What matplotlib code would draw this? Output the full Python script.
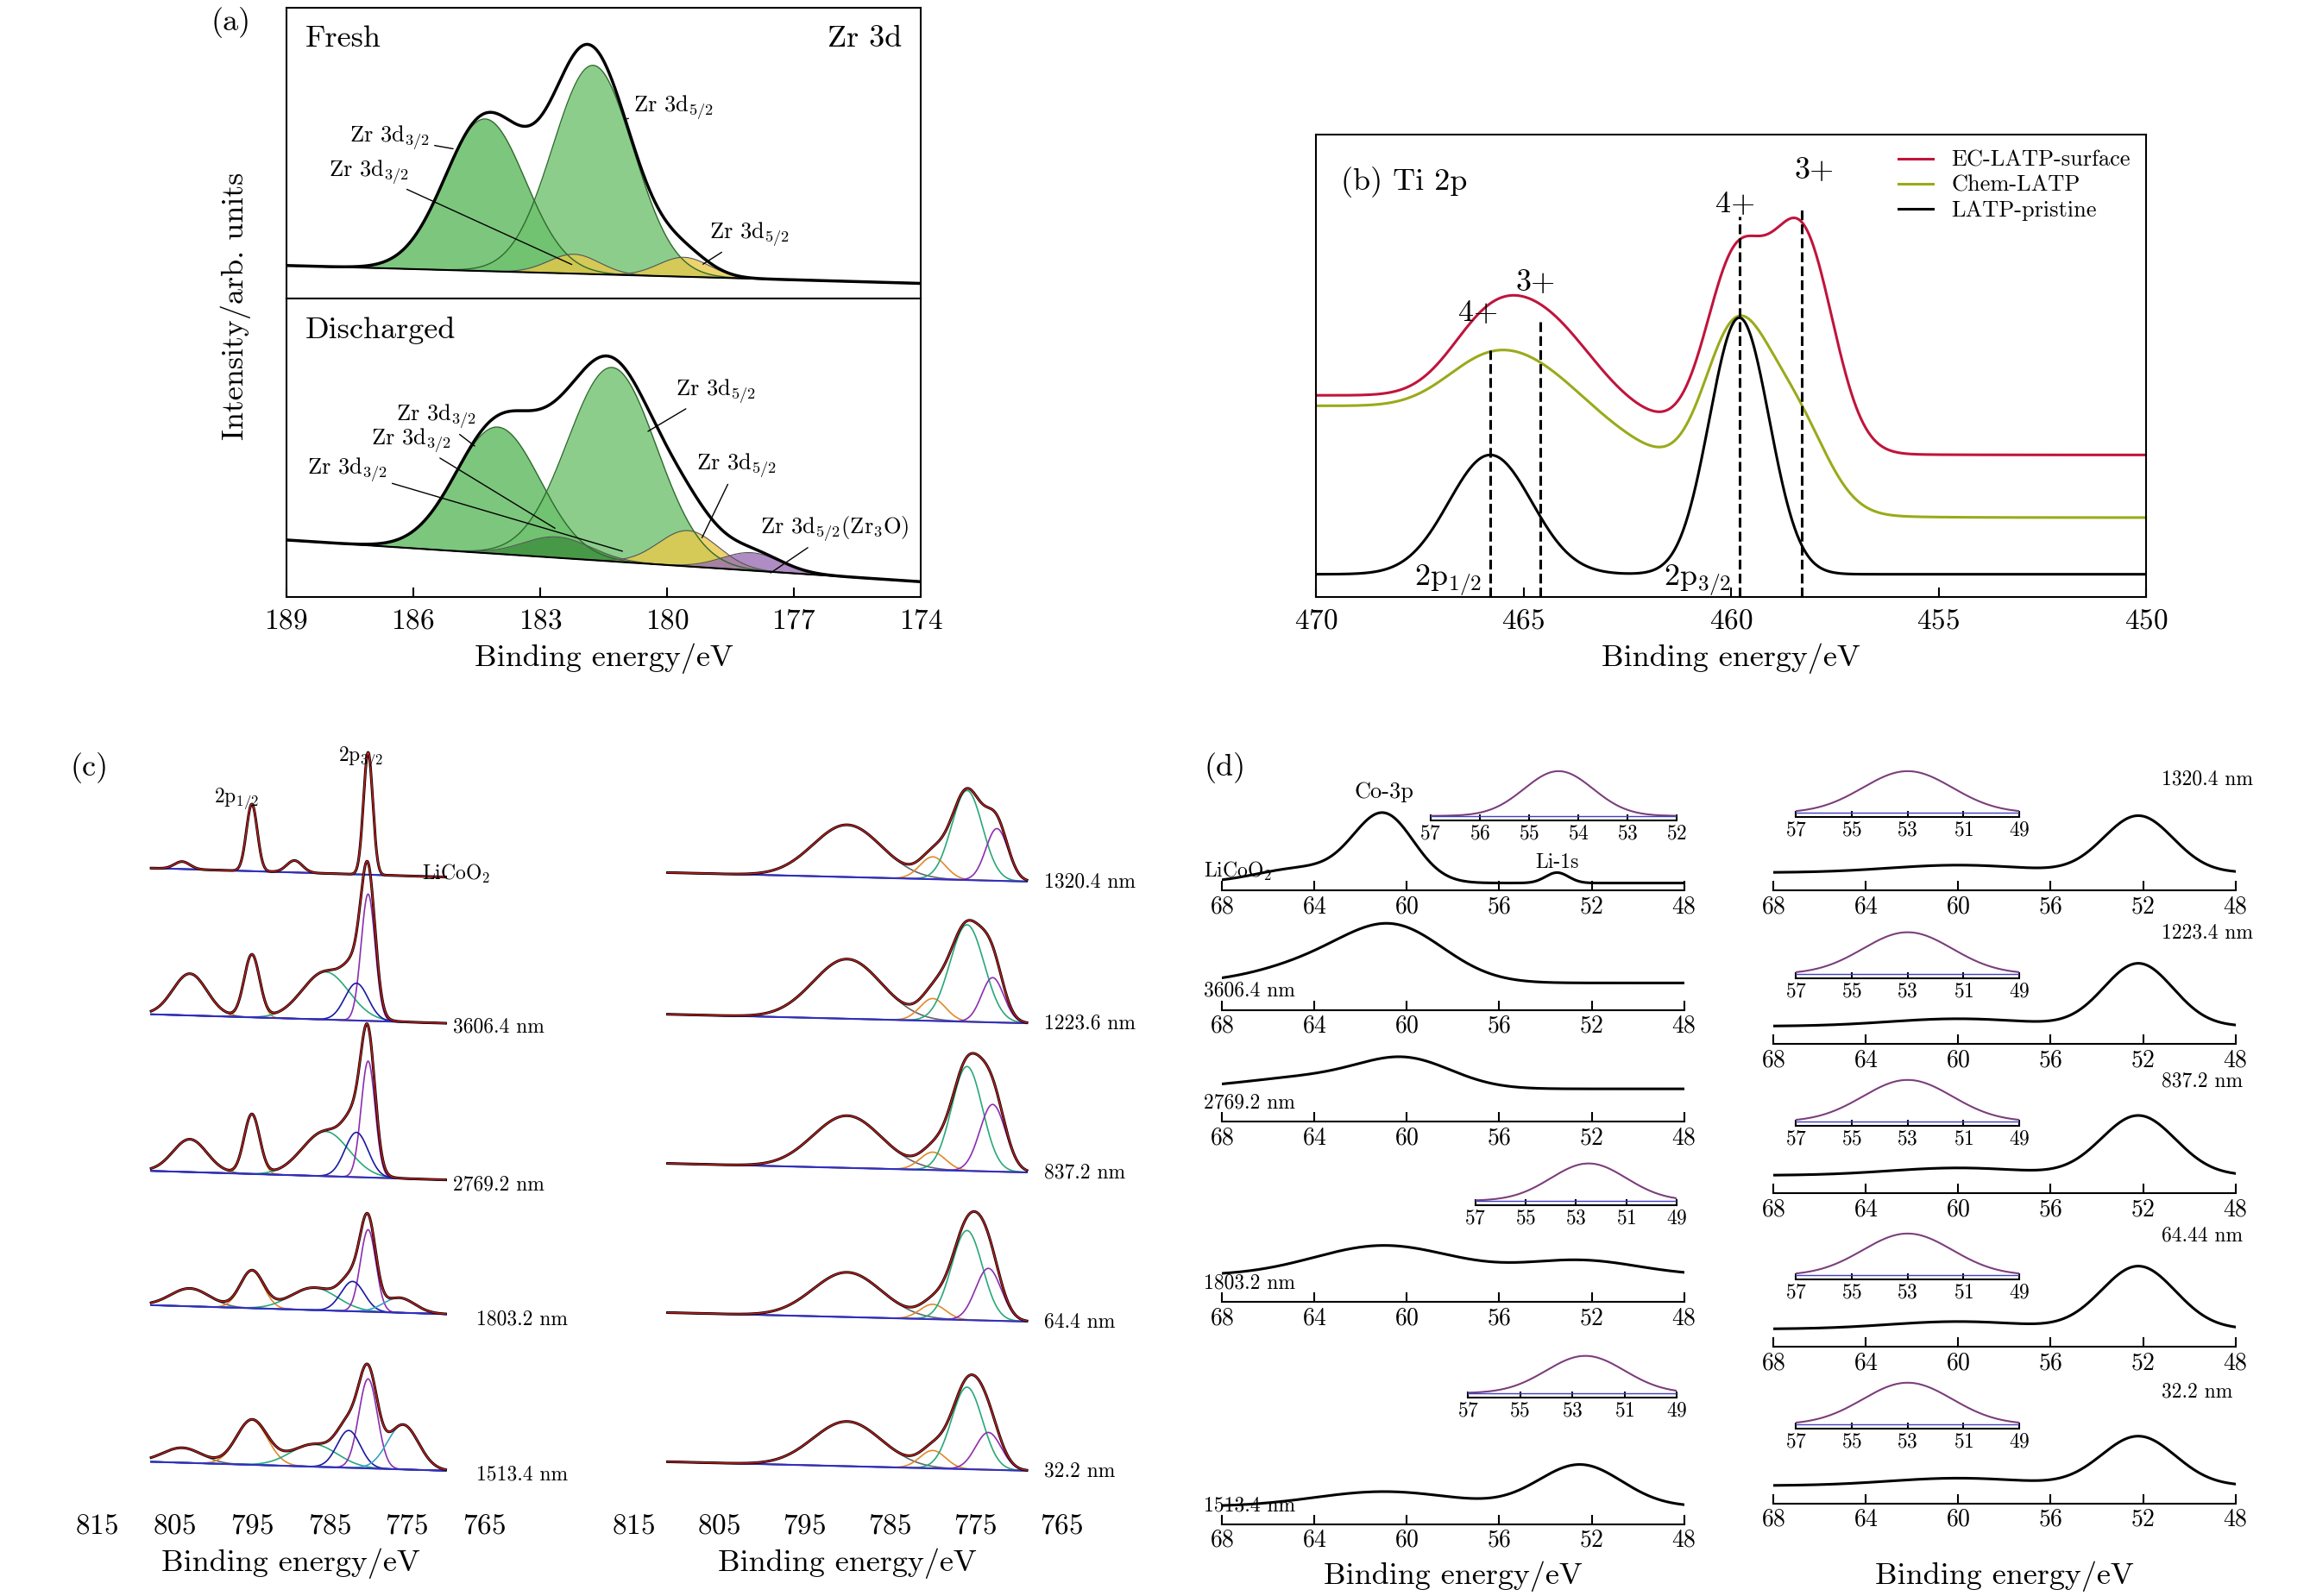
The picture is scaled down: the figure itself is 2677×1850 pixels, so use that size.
import numpy as np
import matplotlib
matplotlib.use("Agg")
import matplotlib.pyplot as plt

plt.rcParams['font.family'] = ['cmr10', 'DejaVu Serif']
plt.rcParams['mathtext.fontset'] = 'cm'
plt.rcParams['axes.formatter.use_mathtext'] = True
plt.rcParams['axes.unicode_minus'] = False

W, H = 1550.0, 1070.0
fig = plt.figure(figsize=(26.77, 18.5), dpi=100)

def ax_px(x0, y0, x1, y1):
    return fig.add_axes([x0 / W, 1 - y1 / H, (x1 - x0) / W, (y1 - y0) / H])

def gauss(x, c, a, s):
    return a * np.exp(-0.5 * ((x - c) / s) ** 2)

def step(x, c, h, w):
    return h / (1 + np.exp(-(x - c) / w))

# ---------------- DATA ----------------
a_fresh_main = [(184.3, 102, 0.95), (181.75, 140, 0.95)]
a_fresh_minor = [(182.2, 13, 0.6), (179.6, 13, 0.6)]
a_fresh_bg = (22, 10)
a_dis_main = [(184.0, 85, 1.0), (181.3, 130, 1.05)]
a_dis_minor = [(182.6, 14, 0.8), (179.5, 24, 0.7), (178.0, 12, 0.7)]
a_dis_bg = (38, 10)
a_ticks = [189, 186, 183, 180, 177, 174]

b_names = ['EC-LATP-surface', 'Chem-LATP', 'LATP-pristine']
b_colors = ['#c0143c', '#9aaa1a', '#000000']
b_base = [95, 53, 15]
b_step = [40, 75, 0]
b_peaks = [
    [(466.0, 30, 0.9), (464.6, 55, 1.2), (459.9, 118, 0.7), (458.3, 145, 0.75)],
    [(466.0, 25, 1.0), (464.6, 25, 1.1), (459.9, 105, 0.75), (458.5, 62, 0.8)],
    [(465.8, 80, 1.0), (459.8, 172, 0.72)],
]
b_dash = [(465.8, 165), (464.6, 185), (459.8, 255), (458.3, 262)]
b_ticks = [470, 465, 460, 455, 450]

c_left = [
    ('LiCoO$_2$', 418, [(804.0, 5, 1.0), (795.0, 45, 0.7), (789.5, 8, 1.0), (780.0, 82, 0.6)]),
    ('3606.4 nm', 320, [(803.0, 28, 2.2), (795.0, 42, 1.0), (785.5, 32, 3.0), (780.0, 85, 0.9), (781.5, 25, 1.5)]),
    ('2769.2 nm', 215, [(803.0, 22, 2.2), (795.0, 40, 1.0), (785.5, 30, 3.0), (780.0, 78, 0.9), (781.5, 30, 1.5)]),
    ('1803.2 nm', 125, [(803.0, 12, 2.5), (795.0, 25, 1.5), (787.0, 15, 3.0), (780.0, 55, 1.0), (782.0, 20, 1.5), (776.0, 10, 2.0)]),
    ('1513.4 nm', 20, [(804.0, 10, 2.5), (795.0, 30, 2.0), (787.0, 15, 3.0), (780.0, 60, 1.2), (782.5, 25, 1.5), (775.5, 30, 2.0)]),
]
c_left_labpos = [(773, 420), (769, 318), (769, 212), (766, 122), (766, 18)]
c_right = [
    ('1320.4 nm', 415, [(790.0, 35, 4.0), (780.0, 15, 1.5), (776.0, 60, 1.8), (772.5, 35, 1.3)]),
    ('1223.6 nm', 320, [(790.0, 40, 4.0), (780.0, 15, 1.5), (776.0, 65, 2.0), (773.0, 30, 1.3)]),
    ('837.2 nm', 220, [(790.0, 35, 4.0), (780.0, 12, 1.5), (776.0, 70, 1.8), (773.0, 45, 1.5)]),
    ('64.4 nm', 120, [(790.0, 30, 4.0), (780.0, 10, 1.5), (776.0, 60, 1.8), (773.5, 35, 1.5)]),
    ('32.2 nm', 20, [(790.0, 30, 4.0), (780.0, 12, 1.5), (776.0, 55, 1.8), (773.5, 25, 1.5)]),
]
c_ticks = [815, 805, 795, 785, 775, 765]

d_left = [
    ('LiCoO$_2$', [(61.0, 45, 1.3), (64.5, 10, 2.0), (53.5, 7, 0.5)], 5),
    ('3606.4 nm', [(60.5, 35, 2.2), (64.0, 12, 2.5)], 18),
    ('2769.2 nm', [(60.0, 18, 2.0), (64.0, 8, 3.0)], 22),
    ('1803.2 nm', [(61.0, 20, 3.0), (52.5, 10, 2.5)], 18),
    ('1513.4 nm', [(61.0, 10, 3.0), (52.5, 28, 1.8)], 12),
]
d_right = [
    ('1320.4 nm', [(52.2, 38, 1.5), (60.0, 5, 3.0)], 12),
    ('1223.4 nm', [(52.2, 42, 1.5), (60.0, 5, 3.0)], 12),
    ('837.2 nm', [(52.2, 40, 1.6), (60.0, 5, 3.0)], 12),
    ('64.44 nm', [(52.2, 42, 1.6), (60.0, 5, 3.0)], 12),
    ('32.2 nm', [(52.2, 33, 1.6), (60.0, 5, 3.0)], 12),
]
d_ticks = [68, 64, 60, 56, 52, 48]
d_inset_ticks = [57, 55, 53, 51, 49]
d_inset_ticks1 = [57, 56, 55, 54, 53, 52]

TS = 24
LS = 26

def style_bottom(ax, ticks, xlim, fs=TS):
    for s in ['left', 'right', 'top']:
        ax.spines[s].set_visible(False)
    ax.set_xlim(*xlim)
    ax.set_xticks(ticks)
    ax.set_yticks([])
    ax.tick_params(axis='x', direction='in', length=8, width=1.5, labelsize=fs, pad=6)
    ax.spines['bottom'].set_linewidth(1.5)
    ax.patch.set_alpha(0)

# ---------------- (a) ----------------
def panel_a(ax, main, minor, bg, ylim, minor_cols):
    x = np.linspace(189, 174, 800)
    base = bg[1] + (bg[0] - bg[1]) * (x - 174) / 15
    greens = ['#5cb85c', '#6fc16f']
    tot = base.copy()
    for (c, a, s), col in zip(main, greens):
        g = gauss(x, c, a, s)
        ax.fill_between(x, base, base + g, color=col, alpha=0.8, lw=0)
        ax.plot(x, base + g, color='#2d6b2d', lw=1)
        tot += g
    for (c, a, s), col in zip(minor, minor_cols):
        g = gauss(x, c, a, s)
        ax.fill_between(x, base, base + g, color=col, alpha=0.8, lw=0)
        ax.plot(x, base + g, color='#555', lw=0.8)
        tot += g
    ax.plot(x, base, color='k', lw=1.5)
    ax.plot(x, tot, color='k', lw=2.5)
    ax.set_xlim(189, 174)
    ax.set_ylim(*ylim)
    ax.set_yticks([])
    for s in ax.spines.values():
        s.set_linewidth(1.5)

axa1 = ax_px(192, 5, 618, 200)
panel_a(axa1, a_fresh_main, a_fresh_minor, a_fresh_bg, (0, 195), ['#e8c84a', '#e8c84a'])
axa1.set_xticks([])
axa1.text(0.03, 0.94, 'Fresh', transform=axa1.transAxes, fontsize=LS, va='top')
axa1.text(0.97, 0.94, 'Zr 3d', transform=axa1.transAxes, fontsize=LS, va='top', ha='right')
fsA = 19
arw = dict(arrowstyle='-', lw=1)
axa1.annotate(r'Zr 3d$_{3/2}$', xy=(185.0, 100), xytext=(187.5, 105), fontsize=fsA, arrowprops=arw)
axa1.annotate(r'Zr 3d$_{3/2}$', xy=(182.2, 22), xytext=(188.0, 82), fontsize=fsA, arrowprops=arw)
axa1.annotate(r'Zr 3d$_{5/2}$', xy=(181.0, 120), xytext=(180.8, 125), fontsize=fsA, arrowprops=arw)
axa1.annotate(r'Zr 3d$_{5/2}$', xy=(179.2, 22), xytext=(179.0, 40), fontsize=fsA, arrowprops=arw)

axa2 = ax_px(192, 200, 618, 400)
panel_a(axa2, a_dis_main, a_dis_minor, a_dis_bg, (0, 200), ['#3d8f3d', '#e8c84a', '#9b6fb5'])
axa2.set_xticks(a_ticks)
axa2.tick_params(axis='x', direction='in', length=8, width=1.5, labelsize=TS, pad=10)
axa2.set_xlabel('Binding energy/eV', fontsize=LS, labelpad=8)
axa2.text(0.03, 0.94, 'Discharged', transform=axa2.transAxes, fontsize=LS, va='top')
axa2.annotate(r'Zr 3d$_{3/2}$', xy=(184.5, 100), xytext=(186.4, 118), fontsize=fsA, arrowprops=arw)
axa2.annotate(r'Zr 3d$_{3/2}$', xy=(182.6, 45), xytext=(187.0, 102), fontsize=fsA, arrowprops=arw)
axa2.annotate(r'Zr 3d$_{3/2}$', xy=(181.0, 30), xytext=(188.5, 82), fontsize=fsA, arrowprops=arw)
axa2.annotate(r'Zr 3d$_{5/2}$', xy=(180.5, 110), xytext=(179.8, 135), fontsize=fsA, arrowprops=arw)
axa2.annotate(r'Zr 3d$_{5/2}$', xy=(179.2, 38), xytext=(179.3, 85), fontsize=fsA, arrowprops=arw)
axa2.annotate(r'Zr 3d$_{5/2}$(Zr$_3$O)', xy=(177.6, 15), xytext=(177.8, 42), fontsize=fsA, arrowprops=arw)
fig.text(158 / W, 1 - 205 / H, 'Intensity/arb. units', rotation=90, fontsize=LS, ha='center', va='center')
fig.text(155 / W, 1 - 15 / H, '(a)', fontsize=LS, ha='center', va='center')

# ---------------- (b) ----------------
axb = ax_px(883, 90, 1440, 400)
xb = np.linspace(470, 450, 1000)
for name, col, base, st, pk in zip(b_names, b_colors, b_base, b_step, b_peaks):
    y = base + step(xb, 461.5, st, 1.2)
    for c, a, s in pk:
        y = y + gauss(xb, c, a, s)
    axb.plot(xb, y, color=col, lw=2.2, label=name)
for xdd, yt in b_dash:
    axb.plot([xdd, xdd], [0, yt], 'k--', lw=2.2)
axb.text(466.1, 185, '4+', fontsize=LS, ha='center')
axb.text(464.7, 205, '3+', fontsize=LS, ha='center')
axb.text(459.9, 258, '4+', fontsize=LS, ha='center')
axb.text(458.0, 280, '3+', fontsize=LS, ha='center')
axb.text(466.0, 8, r'2p$_{1/2}$', fontsize=LS, ha='right')
axb.text(460.0, 8, r'2p$_{3/2}$', fontsize=LS, ha='right')
axb.text(0.03, 0.93, '(b) Ti 2p', transform=axb.transAxes, fontsize=LS, va='top')
axb.set_xlim(470, 450)
axb.set_ylim(0, 310)
axb.set_yticks([])
axb.set_xticks(b_ticks)
axb.tick_params(axis='x', direction='in', length=8, width=1.5, labelsize=TS, pad=10)
for s in axb.spines.values():
    s.set_linewidth(1.5)
axb.set_xlabel('Binding energy/eV', fontsize=LS, labelpad=8)
axb.legend(loc='upper right', frameon=False, fontsize=19, handlelength=1.5,
           borderaxespad=0.3, labelspacing=0.2)

# ---------------- (c) ----------------
comp_cols = ['#666666', '#e08a2c', '#2aa87a', '#8b2fb0', '#1a1aa0', '#3aa0c8']
def panel_c(ax, rows, x0, x1, labpos):
    x = np.linspace(x0, x1, 900)
    for (label, off, pk), lp in zip(rows, labpos):
        base = off + 4 + 6 * (x - x1) / (x0 - x1)
        tot = base.copy()
        for i, (c, a, s) in enumerate(pk):
            g = gauss(x, c, a, s)
            ax.plot(x, base + g, color=comp_cols[i % len(comp_cols)], lw=1.2)
            tot += g
        ax.plot(x, base, color='#3030c0', lw=1.5)
        ax.plot(x, tot, color='k', lw=2.2)
        ax.plot(x, tot, color='#d02020', lw=1.0)
        ax.text(lp[0], lp[1], label, fontsize=17)
    ax.set_ylim(0, 510)
    style_bottom(ax, c_ticks, (815, 765))
    ax.spines['bottom'].set_visible(False)
    ax.tick_params(axis='x', length=0)
    ax.set_xlabel('Binding energy/eV', fontsize=LS, labelpad=8)

axc1 = ax_px(65, 500, 325, 1010)
panel_c(axc1, c_left, 808, 770, c_left_labpos)
axc1.text(797, 472, r'2p$_{1/2}$', fontsize=17, ha='center')
axc1.text(781, 500, r'2p$_{3/2}$', fontsize=17, ha='center')
axc2 = ax_px(425, 500, 712, 1010)
panel_c(axc2, c_right, 811, 769, [(767, r[1]) for r in c_right])
fig.text(60 / W, 1 - 515 / H, '(c)', fontsize=LS, ha='center', va='center')

# ---------------- (d) ----------------
xd = np.linspace(68, 48, 800)
def d_row(x0, x1, ybot, row, labpos):
    ax = ax_px(x0, ybot - 75, x1, ybot)
    label, pk, base = row
    y = base + np.zeros_like(xd)
    for c, a, s in pk:
        y = y + gauss(xd, c, a, s)
    ax.plot(xd, y, color='k', lw=2.2)
    ax.set_ylim(0, 75)
    style_bottom(ax, d_ticks, (68, 48), fs=20)
    ax.tick_params(axis='x', pad=4)
    ax.text(labpos[0], labpos[1], label, fontsize=17, transform=ax.transAxes)
    return ax

def d_inset(x0, x1, ybot, ticks, xlim, c, a, s):
    ax = ax_px(x0, ybot - 45, x1, ybot)
    x = np.linspace(xlim[0], xlim[1], 300)
    base = 3 + np.zeros_like(x)
    g = gauss(x, c, a, s)
    ax.plot(x, base + g, color='#b02fb0', lw=1.5)
    ax.plot(x, base + g, color='#555', lw=0.8)
    ax.plot(x, base, color='#4040c0', lw=1.0)
    ax.set_ylim(0, 45)
    style_bottom(ax, ticks, xlim, fs=17)
    ax.tick_params(axis='x', pad=3, length=5)
    return ax

left_y = [597, 677, 752, 873, 1022]
right_y = [597, 700, 800, 903, 1008]
for i, (row, yb) in enumerate(zip(d_left, left_y)):
    ax = d_row(820, 1130, yb, row, (-0.04, 0.12))
    if i == 0:
        ax.text(61, 62, 'Co-3p', fontsize=19, ha='center')
        ax.text(53.5, 15, 'Li-1s', fontsize=17, ha='center')
for i, (row, yb) in enumerate(zip(d_right, right_y)):
    d_row(1190, 1500, yb, row, (0.84, 0.95))
d_inset(960, 1125, 550, d_inset_ticks1, (57, 52), 54.4, 30, 0.7)
d_inset(990, 1125, 808, d_inset_ticks, (57, 49), 52.5, 25, 1.5)
d_inset(985, 1125, 937, d_inset_ticks, (57, 49), 52.5, 25, 1.5)
for yb in [548, 656, 755, 858, 958]:
    d_inset(1205, 1355, yb, d_inset_ticks, (57, 49), 53.0, 28, 1.6)
fig.text(975 / W, 1 - 1067 / H, 'Binding energy/eV', fontsize=LS, ha='center', va='bottom')
fig.text(1345 / W, 1 - 1067 / H, 'Binding energy/eV', fontsize=LS, ha='center', va='bottom')
fig.text(822 / W, 1 - 515 / H, '(d)', fontsize=LS, ha='center', va='center')

fig.savefig('out.png', dpi=100)
